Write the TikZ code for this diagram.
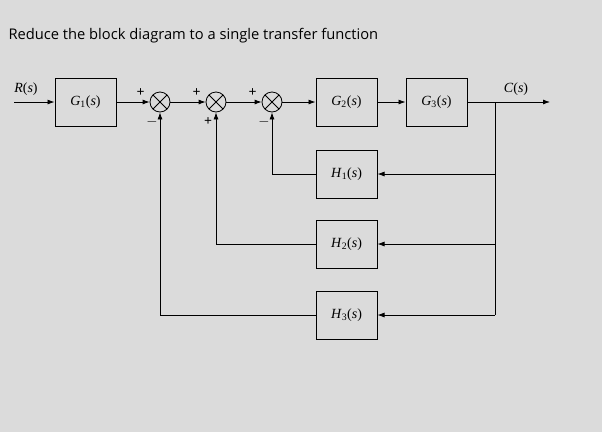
\documentclass[tikz,border=0pt]{standalone}
\usepackage{fontspec}
\setmainfont{Liberation Serif}
\newfontfamily\ttl{Open Sans}
\usetikzlibrary{arrows.meta}
\newcommand{\tf}[2]{\textit{#1}\textsubscript{#2}(\textit{s})}
\begin{document}
\begin{tikzpicture}[x=1pt,y=-1pt,
  blk/.style={draw,line width=1pt,minimum width=61pt,minimum height=48pt,inner sep=0pt,font=\fontsize{14}{14}\selectfont},
  sum/.style={draw,line width=0.8pt,circle,minimum size=20pt,inner sep=0pt,path picture={\draw (path picture bounding box.north west)--(path picture bounding box.south east) (path picture bounding box.north east)--(path picture bounding box.south west);}},
  sg/.style={font=\bfseries\fontsize{14}{14}\selectfont,inner sep=0pt},
  lb/.style={font=\fontsize{14}{14}\selectfont},
  ar/.style={-{Latex[length=7pt,width=5pt]},line width=0.8pt},
  ln/.style={line width=0.8pt}]
\fill[gray!28] (0,0) rectangle (602,432);
\useasboundingbox (0,0) rectangle (602,432);
\node[anchor=west,font=\ttl\fontsize{14.7}{14.7}\selectfont] (t) at (5,36) {Reduce the block diagram to a single transfer function};
\coordinate (in) at (14,102);
\node[blk] (g1) at (85.5,102) {\tf{G}{1}};
\node[sum] (s1) at (160,102) {};
\node[sum] (s2) at (216,102) {};
\node[sum] (s3) at (272,102) {};
\node[blk] (g2) at (346.5,102) {\tf{G}{2}};
\node[blk] (g3) at (436.5,102) {\tf{G}{3}};
\coordinate (out) at (550,102);
\coordinate (tp) at (495,102);
\node[blk] (h1) at (346.5,174) {\tf{H}{1}};
\node[blk] (h2) at (346.5,244) {\tf{H}{2}};
\node[blk] (h3) at (346.5,315) {\tf{H}{3}};
\node[lb] (r) at (26,89) {\textit{R}(\textit{s})};
\node[lb] (c) at (516,89) {\textit{C}(\textit{s})};
\draw[ar] (in) -- (g1);
\draw[ar] (g1) -- (s1);
\draw[ar] (s1) -- (s2);
\draw[ar] (s2) -- (s3);
\draw[ar] (s3) -- (g2);
\draw[ar] (g2) -- (g3);
\draw[ar] (g3) -- (out);
\draw[ln] (tp) -- (tp|-h3);
\draw[ar] (tp|-h1) -- (h1);
\draw[ar] (tp|-h2) -- (h2);
\draw[ar] (tp|-h3) -- (h3);
\draw[ar] (h1.west) -| (s3);
\draw[ar] (h2.west) -| (s2);
\draw[ar] (h3.west) -| (s1);
\foreach \s in {s1,s2,s3}{\node[sg] at ([xshift=-9pt,yshift=9pt]\s.west) {+};}
\node[sg] at ([xshift=-8pt,yshift=-9pt]s1.south) {$-$};
\node[sg] at ([xshift=-8pt,yshift=-9pt]s2.south) {+};
\node[sg] at ([xshift=-8pt,yshift=-9pt]s3.south) {$-$};
\end{tikzpicture}
\end{document}
